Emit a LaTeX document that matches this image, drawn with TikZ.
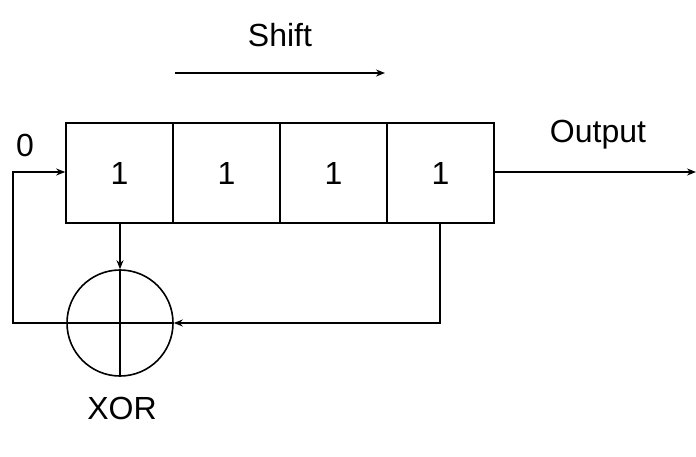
\documentclass[tikz,border=0pt]{standalone}
\usepackage{fontspec}
\setmainfont{Liberation Sans}
\usetikzlibrary{arrows.meta}
\begin{document}
\begin{tikzpicture}[x=1pt,y=-1pt,line width=1.6pt,
  cell/.style={draw,minimum width=107pt,minimum height=100pt,inner sep=0pt,font=\fontsize{32}{36}\selectfont},
  lbl/.style={font=\fontsize{32}{36}\selectfont,inner sep=0pt},
  arr/.style={-{Stealth[length=9pt,width=7pt]}}]
\useasboundingbox (0,0) rectangle (696,457);
\node[cell] (c1) at (119.5,173) {1};
\node[cell] (c2) at (226.5,173) {1};
\node[cell] (c3) at (333.5,173) {1};
\node[cell] (c4) at (440.5,173) {1};
\node[lbl] (zero) at (25,145) {0};
\node[lbl] (shift) at (280,35) {Shift};
\node[lbl] (out) at (598,135) {Output};
\node[lbl] (xorl) at (122,408) {XOR};
\node[draw,circle,minimum size=106pt,inner sep=0pt] (x) at (120,323) {};
\draw (x.north) -- (x.south) (x.west) -- (x.east);
\coordinate (s1) at (175,73); \coordinate (s2) at (385,73);
\draw[arr] (s1) -- (s2);
\coordinate (o2) at (696,172);
\draw[arr] (c4.east |- o2) -- (o2);
\draw[arr] (c1.south -| x.north) -- (x.north);
\coordinate (f1) at (440,323);
\draw[arr] (c4.south -| f1) -- (f1) -- (x.east);
\coordinate (l1) at (13,323); \coordinate (l2) at (13,172);
\draw[arr] (x.west) -- (l1) -- (l2) -- (c1.west |- l2);
\end{tikzpicture}
\end{document}
